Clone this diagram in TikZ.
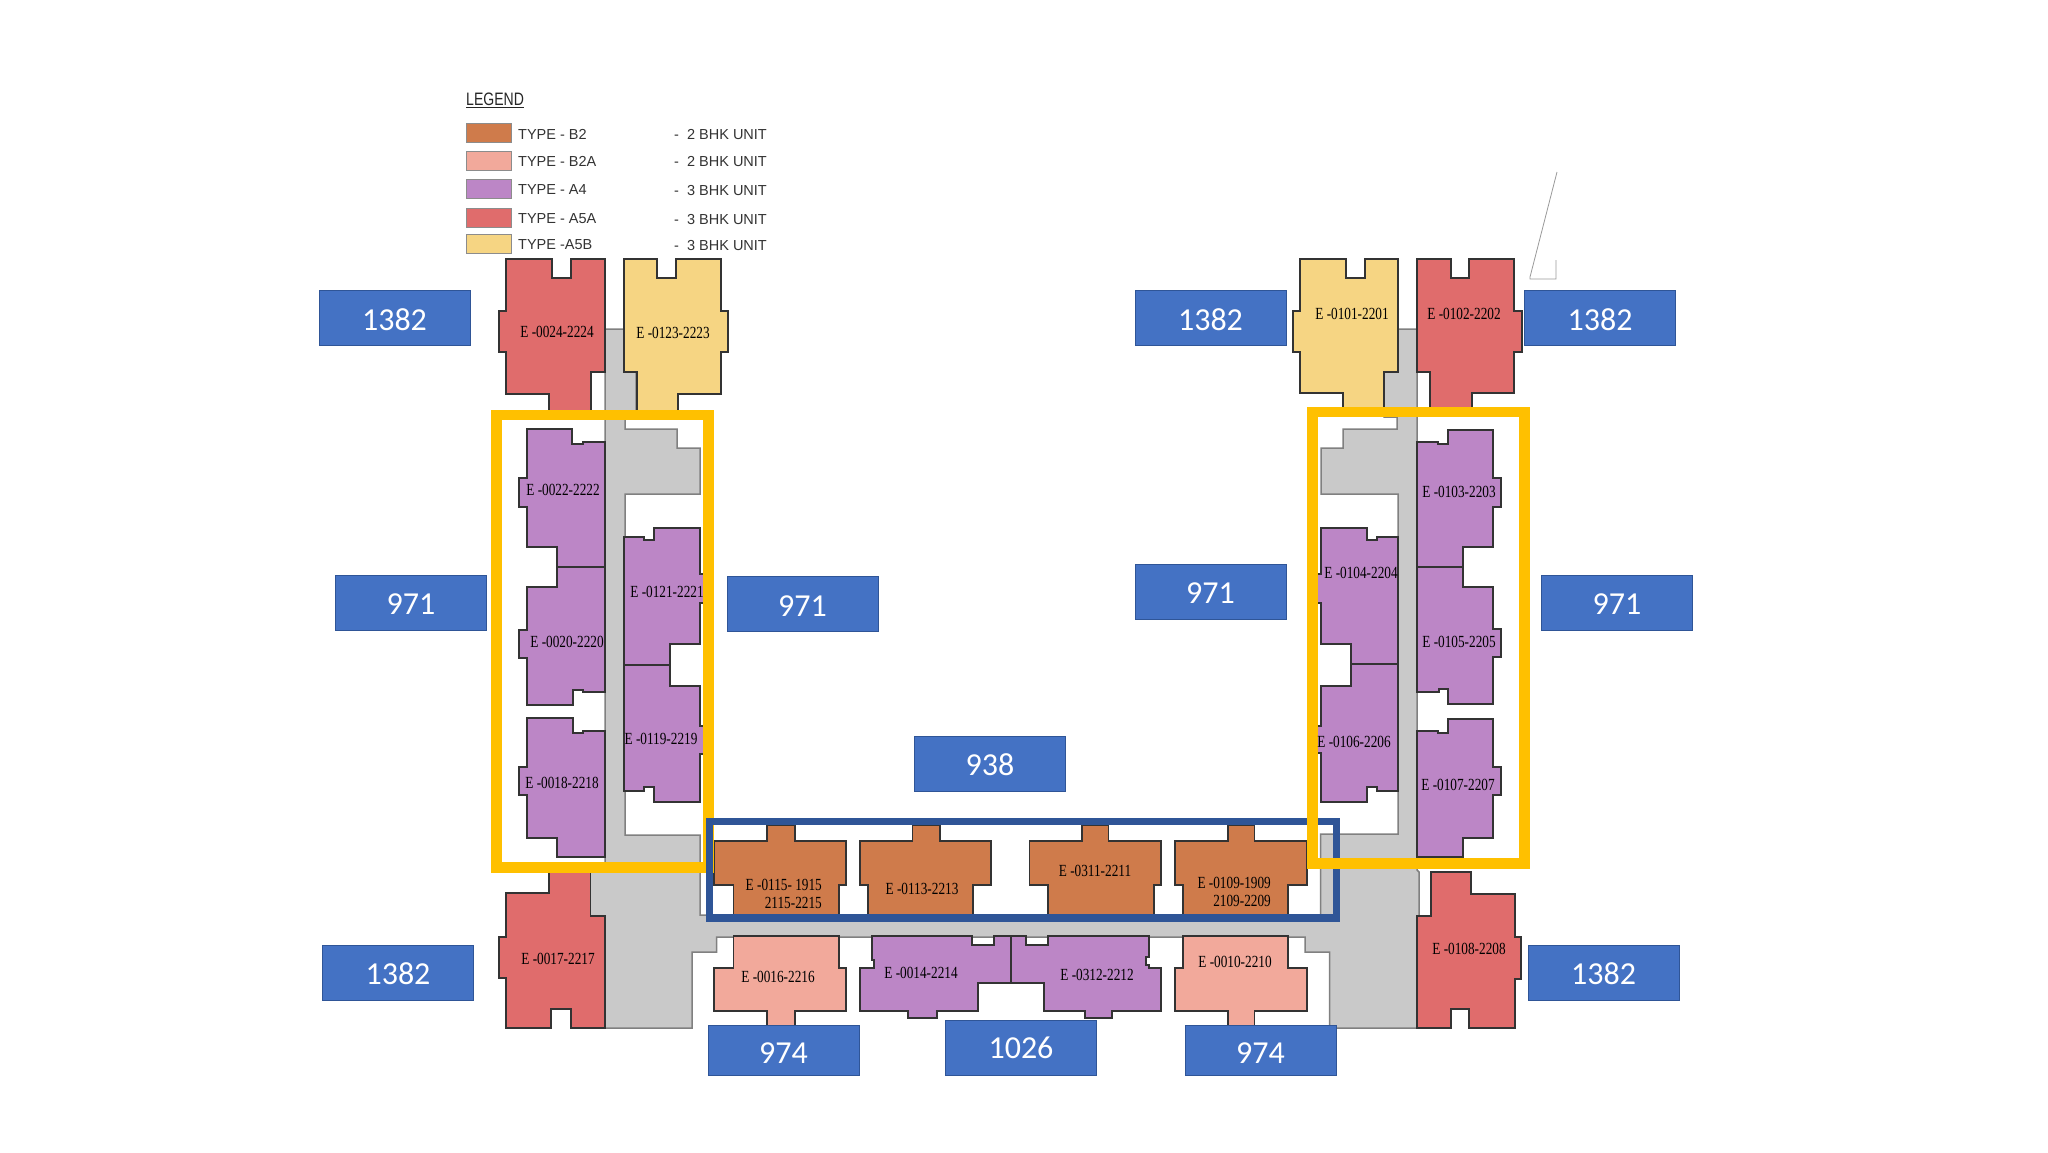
\documentclass[tikz,border=0pt]{standalone}
\usepackage{fontspec}
\setmainfont{Liberation Sans}
\newfontfamily\unitfont[FakeStretch=0.78]{Liberation Serif}
\newfontfamily\legendhead[FakeStretch=0.78]{Liberation Sans}
\newfontfamily\areafont{Carlito}
\definecolor{typeB}{HTML}{CF7B4B}
\definecolor{typeBA}{HTML}{F2A99B}
\definecolor{typeA}{HTML}{BC86C6}
\definecolor{typeAA}{HTML}{E06C6C}
\definecolor{typeAB}{HTML}{F6D583}
\definecolor{corridor}{HTML}{C9C9C9}
\definecolor{boxblue}{HTML}{4472C4}
\definecolor{boxedge}{HTML}{2F5597}
\definecolor{gold}{HTML}{FFC000}
\tikzset{
	unit/.style={draw=black!80, line width=1.5pt, line join=miter},
	hall/.style={draw=black!50, line width=1.5pt, fill=corridor},
	areabox/.style={draw=boxedge, line width=1pt, fill=boxblue, text=white, minimum width=151pt, minimum height=55pt, inner sep=0pt, text depth=0pt, font=\areafont\fontsize{32}{36}\selectfont},
	unitlabel/.style={inner sep=0pt, text=black, font=\unitfont\fontsize{17}{18}\selectfont},
	swatch/.style={draw=black!45, line width=1pt, minimum width=45pt, minimum height=19pt, inner sep=0pt},
	legendtext/.style={inner sep=0pt, anchor=west, text=black!80, font=\fontsize{14.5}{16}\selectfont}
}
\begin{document}
\begin{tikzpicture}[x=1pt,y=-1pt]
	\useasboundingbox[fill=white] (0,0) rectangle (2048,1152);
	
	\node[inner sep=0pt, anchor=west, text=black!85, font=\legendhead\fontsize{18}{20}\selectfont] (legend) at (466,100) {\underline{LEGEND}};
	\foreach \name/\col/\y/\ytext/\kind/\bhk in {b/typeB/132.5/134/TYPE - B2/2,ba/typeBA/161/161/TYPE - B2A/2,a/typeA/188.5/190/TYPE - A4/3,aa/typeAA/218/219/TYPE - A5A/3,ab/typeAB/243.5/245/TYPE -A5B/3}{
		\node[swatch, fill=\col] (sw\name) at (488.5,\y) {};
		\node[legendtext] (kind\name) at (518,\ytext) {\kind};
		\node[legendtext] (bhk\name) at (674,\ytext+1) {-\ \ \bhk\ BHK UNIT};
	}
	
	% north mark
	\draw[black!40, line width=.8pt] (1557,172) -- (1530,277) -- (1530,279) -- (1556,279) -- (1556,260);
	
	% corridors
	\draw[hall] (605,329) -- (624,329) -- (624,372) -- (636,372) -- (636,418) -- (625,418) -- (625,429) -- (677,429) -- (677,448) -- (700,448) -- (700,494) -- (625,494) -- (625,835) -- (700,835) -- (700,915) -- (1320.5,915) -- (1320.5,834) -- (1398,834) -- (1398,494) -- (1321,494) -- (1321,448) -- (1343,448) -- (1343,429) -- (1397,429) -- (1397,417) -- (1384,417) -- (1384,372) -- (1398,372) -- (1398,329) -- (1417,329) -- (1417,870) -- (1419,872) -- (1419,1028) -- (1329.5,1028) -- (1329.5,952) -- (1305,952) -- (1305,937) -- (716.5,937) -- (716.5,952) -- (692,952) -- (692,1028) -- (605,1028) -- (605,916) -- (590,916) -- (590,868) -- (605,868) -- cycle;
	
	% top blocks
	\draw[unit, fill=typeAA] (506,259) -- (552,259) -- (552,278) -- (571,278) -- (571,259) -- (605,259) -- (605,372) -- (591,372) -- (591,415) -- (549,415) -- (549,394) -- (506,394) -- (506,352) -- (499,352) -- (499,311) -- (506,311) -- cycle;
	\draw[unit, fill=typeAB] (624,259) -- (657,259) -- (657,278) -- (676,278) -- (676,259) -- (721,259) -- (721,311) -- (728,311) -- (728,352) -- (721,352) -- (721,394) -- (678,394) -- (678,415) -- (637,415) -- (637,372) -- (624,372) -- cycle;
	\draw[unit, fill=typeAB] (1300,259) -- (1346,259) -- (1346,278) -- (1365,278) -- (1365,259) -- (1398,259) -- (1398,372) -- (1384,372) -- (1384,412) -- (1343,412) -- (1343,393) -- (1300,393) -- (1300,352) -- (1293,352) -- (1293,311) -- (1300,311) -- cycle;
	\draw[unit, fill=typeAA] (1417,259) -- (1451,259) -- (1451,278) -- (1469,278) -- (1469,259) -- (1514,259) -- (1514,311) -- (1522,311) -- (1522,352) -- (1514,352) -- (1514,393) -- (1472,393) -- (1472,412) -- (1430,412) -- (1430,372) -- (1417,372) -- cycle;
	
	% left wing
	\draw[unit, fill=typeA] (527,429) -- (572,429) -- (572,444) -- (583,444) -- (583,442) -- (605,442) -- (605,567) -- (557,567) -- (557,547) -- (527,547) -- (527,507) -- (519,507) -- (519,478) -- (527,478) -- cycle;
	\draw[unit, fill=typeA] (557,567) -- (605,567) -- (605,692) -- (583,692) -- (583,690) -- (573,690) -- (573,705) -- (527,705) -- (527,658) -- (519,658) -- (519,630) -- (527,630) -- (527,587) -- (557,587) -- cycle;
	\draw[unit, fill=typeA] (527,718) -- (573,718) -- (573,733) -- (583,733) -- (583,731) -- (605,731) -- (605,857) -- (557,857) -- (557,838) -- (527,838) -- (527,795) -- (519,795) -- (519,767) -- (527,767) -- cycle;
	\draw[unit, fill=typeA] (624,537) -- (644,537) -- (644,540) -- (654,540) -- (654,528) -- (700,528) -- (700,574) -- (707,574) -- (707,603) -- (700,603) -- (700,644) -- (670,644) -- (670,665) -- (624,665) -- cycle;
	\draw[unit, fill=typeA] (624,665) -- (670,665) -- (670,686) -- (700,686) -- (700,726) -- (707,726) -- (707,754) -- (700,754) -- (700,802) -- (654,802) -- (654,787) -- (644,787) -- (644,791) -- (624,791) -- cycle;
	
	% right wing
	\draw[unit, fill=typeA] (1417,442) -- (1438,442) -- (1438,444) -- (1448,444) -- (1448,430) -- (1493,430) -- (1493,478) -- (1501,478) -- (1501,507) -- (1493,507) -- (1493,547) -- (1463,547) -- (1463,567) -- (1417,567) -- cycle;
	\draw[unit, fill=typeA] (1417,567) -- (1463,567) -- (1463,587) -- (1493,587) -- (1493,629) -- (1501,629) -- (1501,657) -- (1493,657) -- (1493,704) -- (1448,704) -- (1448,689) -- (1439,689) -- (1439,692) -- (1417,692) -- cycle;
	\draw[unit, fill=typeA] (1417,731) -- (1438,731) -- (1438,733) -- (1448,733) -- (1448,719) -- (1493,719) -- (1493,767) -- (1501,767) -- (1501,795) -- (1493,795) -- (1493,838) -- (1463,838) -- (1463,857) -- (1417,857) -- cycle;
	\draw[unit, fill=typeA] (1321,528) -- (1367,528) -- (1367,540) -- (1377,540) -- (1377,537) -- (1398,537) -- (1398,664) -- (1351,664) -- (1351,644) -- (1321,644) -- (1321,603) -- (1314,603) -- (1314,574) -- (1321,574) -- cycle;
	\draw[unit, fill=typeA] (1351,664) -- (1398,664) -- (1398,791) -- (1377,791) -- (1377,787) -- (1367,787) -- (1367,802) -- (1321,802) -- (1321,753) -- (1314,753) -- (1314,726) -- (1321,726) -- (1321,686) -- (1351,686) -- cycle;
	
	% end blocks
	\draw[unit, fill=typeAA] (549,868) -- (590.5,868) -- (590.5,916) -- (605,916) -- (605,1028) -- (571,1028) -- (571,1009) -- (551,1009) -- (551,1028) -- (506,1028) -- (506,978) -- (499,978) -- (499,937) -- (506,937) -- (506,893) -- (549,893) -- cycle;
	\draw[unit, fill=typeAA] (1431,872) -- (1471,872) -- (1471,894) -- (1515,894) -- (1515,937) -- (1521,937) -- (1521,979) -- (1515,979) -- (1515,1028) -- (1469,1028) -- (1469,1009) -- (1451,1009) -- (1451,1028) -- (1417,1028) -- (1417,916) -- (1431,916) -- cycle;
	
	% south row, upper
	\draw[unit, fill=typeB] (767,825) -- (795,825) -- (795,841) -- (846,841) -- (846,885) -- (839,885) -- (839,916) -- (733.5,916) -- (733.5,885) -- (714,885) -- (714,841) -- (767,841) -- cycle;
	\draw[unit, fill=typeB] (912.5,825) -- (940,825) -- (940,841) -- (991,841) -- (991,885) -- (973,885) -- (973,916) -- (868,916) -- (868,885) -- (860,885) -- (860,841) -- (912.5,841) -- cycle;
	\draw[unit, fill=typeB] (1082,825) -- (1108.5,825) -- (1108.5,841) -- (1161,841) -- (1161,885) -- (1154,885) -- (1154,916) -- (1048,916) -- (1048,885) -- (1029.5,885) -- (1029.5,841) -- (1082,841) -- cycle;
	\draw[unit, fill=typeB] (1228,825) -- (1254.5,825) -- (1254.5,841) -- (1307,841) -- (1307,885) -- (1288,885) -- (1288,916) -- (1183,916) -- (1183,885) -- (1175,885) -- (1175,841) -- (1228,841) -- cycle;
	
	% south row, lower
	\draw[unit, fill=typeBA] (733.5,936) -- (839,936) -- (839,968) -- (846,968) -- (846,1011) -- (795,1011) -- (795,1030) -- (767,1030) -- (767,1011) -- (714,1011) -- (714,968) -- (733.5,968) -- cycle;
	\draw[unit, fill=typeBA] (1183,936) -- (1288,936) -- (1288,968) -- (1307,968) -- (1307,1011) -- (1254.5,1011) -- (1254.5,1030) -- (1228,1030) -- (1228,1011) -- (1175,1011) -- (1175,968) -- (1183,968) -- cycle;
	\draw[unit, fill=typeA] (872,936) -- (972,936) -- (972,945) -- (994,945) -- (994,936) -- (1011,936) -- (1011,983) -- (978,983) -- (978,1011) -- (937,1011) -- (937,1018) -- (908,1018) -- (908,1011) -- (860,1011) -- (860,968) -- (874,968) -- (874,960) -- (872,960) -- cycle;
	\draw[unit, fill=typeA] (1011,936) -- (1026,936) -- (1026,945) -- (1048,945) -- (1048,936) -- (1149,936) -- (1149,957) -- (1146,957) -- (1146,965) -- (1149,965) -- (1149,968) -- (1161,968) -- (1161,1011) -- (1112,1011) -- (1112,1018) -- (1085,1018) -- (1085,1011) -- (1044,1011) -- (1044,983) -- (1011,983) -- cycle;
	
	% frames
	\draw[gold, line width=10.5pt] (496.5,415) rectangle (708.5,867.5);
	\draw[boxedge, line width=7.5pt] (709.5,821.5) rectangle (1336.5,918);
	\draw[gold, line width=10.5pt] (1312.5,412) rectangle (1524.5,863.5);
	
	% areas
	\foreach \name/\x/\y/\h/\t in {tl/394.5/318/25/1382,ml/411/602.5/23/971,mc/802.5/603.5/25/971,tc/1210.5/318/25/1382,cr/1210.5/592/23/971,tr/1600/318/25/1382,mr/1617/602.5/23/971,top/990/764/22/938,bl/398/973/22/1382,br/1603.5/973/22/1382,sc/1021/1048/20.3/1026}
	\node[areabox, text height=\h pt] (area\name) at (\x,\y) {\t};
	\node[areabox, minimum height=50pt, text height=26pt] (areasl) at (783.5,1050.5) {974};
	\node[areabox, minimum height=50pt, text height=26pt] (areasr) at (1260.5,1050.5) {974};
	
	% unit numbers
	\foreach \x/\y/\t in {557/332/0024-2224,673/333/0123-2223,563/490/0022-2222,567/642/0020-2220,562/783/0018-2218,667/592/0121-2221,661/739/0119-2219,558/959/0017-2217,922/889/0113-2213,1095/871/0311-2211,778/977/0016-2216,921/973/0014-2214,1097/975/0312-2212,1235/962/0010-2210,1469/949/0108-2208,1352/314/0101-2201,1464/314/0102-2202,1459/492/0103-2203,1361/573/0104-2204,1459/642/0105-2205,1354/742/0106-2206,1458/785/0107-2207}
	\node[unitlabel] (u\t) at (\x,\y) {E -\t};
	\node[unitlabel, align=right, anchor=east] (u0115) at (822,894) {E -0115- 1915\\2115-2215};
	\node[unitlabel, align=right, anchor=east] (u0109) at (1271,892) {E -0109-1909\\2109-2209};
\end{tikzpicture}
\end{document}
